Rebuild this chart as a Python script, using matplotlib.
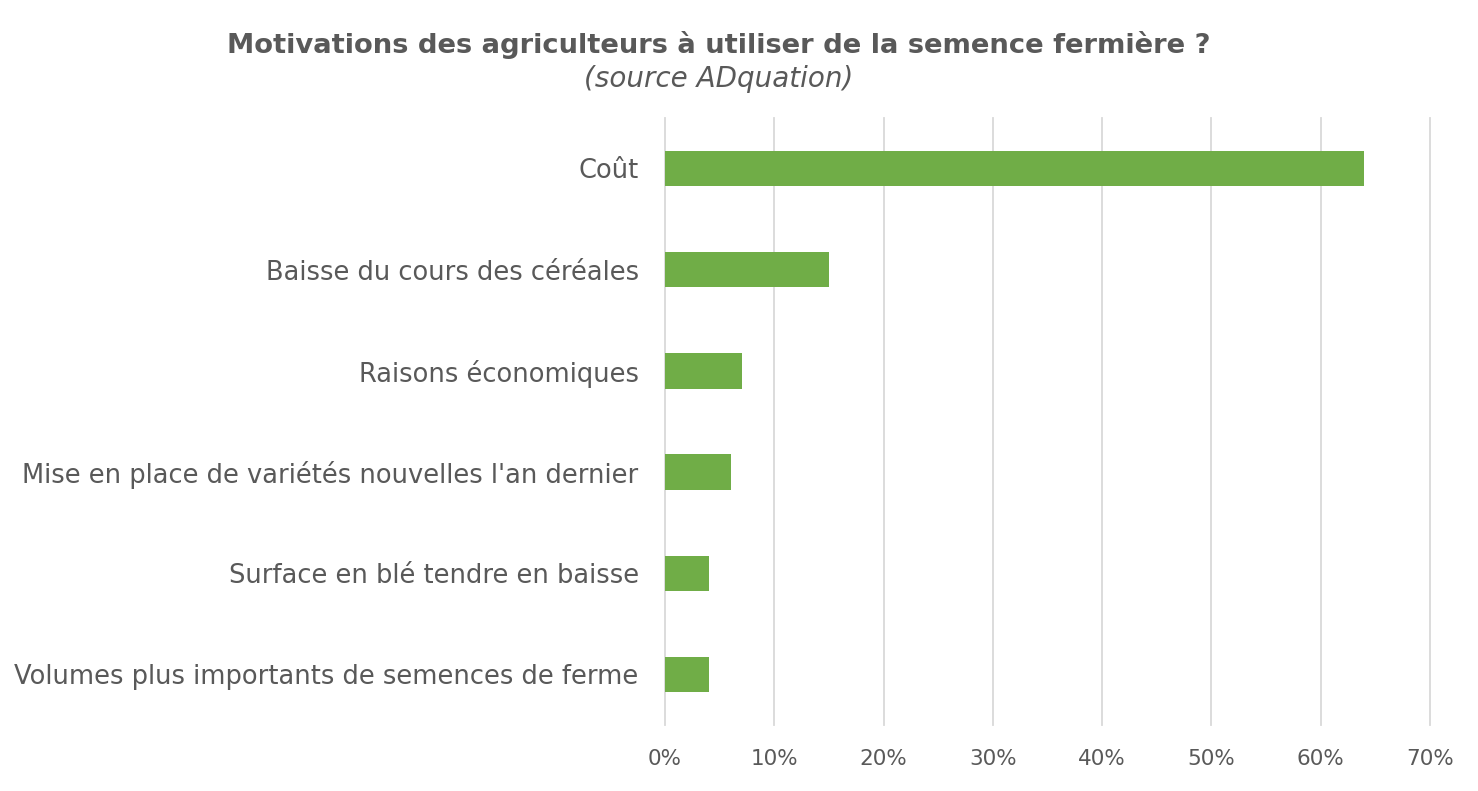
import numpy as np
import matplotlib
matplotlib.use("Agg")
import matplotlib.pyplot as plt
from matplotlib.ticker import FuncFormatter

# data
categories = ["Coût", "Baisse du cours des céréales", "Raisons économiques",
              "Mise en place de variétés nouvelles l'an dernier",
              "Surface en blé tendre en baisse",
              "Volumes plus importants de semences de ferme"]
values = [64, 15, 7, 6, 4, 4]

grey = "#595959"
plt.rcParams["font.family"] = ["DejaVu Sans"]

fig = plt.figure(figsize=(14.78, 7.91), dpi=100)
ax = fig.add_axes([0.45, 0.0834, 0.5175, 0.7676])

y = np.arange(len(categories))
ax.barh(y, values, height=0.35, color="#70ad47", zorder=3)
ax.set_ylim(len(categories) - 0.5, -0.5)
ax.set_xlim(0, 70)
ax.set_xticks(np.arange(0, 71, 10))
ax.xaxis.set_major_formatter(FuncFormatter(lambda v, p: f"{v:.0f}%"))
ax.set_yticks(y)
ax.set_yticklabels(categories)

ax.grid(axis="x", color="#d9d9d9", lw=1.3, zorder=0)
for gl in ax.get_xgridlines():
    gl.set_clip_on(False)
for s in ax.spines.values():
    s.set_visible(False)
ax.tick_params(axis="both", length=0, colors=grey)
ax.tick_params(axis="x", pad=17, labelsize=15.5)
ax.tick_params(axis="y", pad=19, labelsize=18.5)

fig.text(0.486, 0.943, "Motivations des agriculteurs à utiliser de la semence fermière ?",
         ha="center", va="center", fontsize=19.7, fontweight="bold", color=grey)
fig.text(0.486, 0.900, "(source ADquation)", ha="center", va="center",
         fontsize=20, style="italic", color=grey)

fig.savefig("out.png", dpi=100)
